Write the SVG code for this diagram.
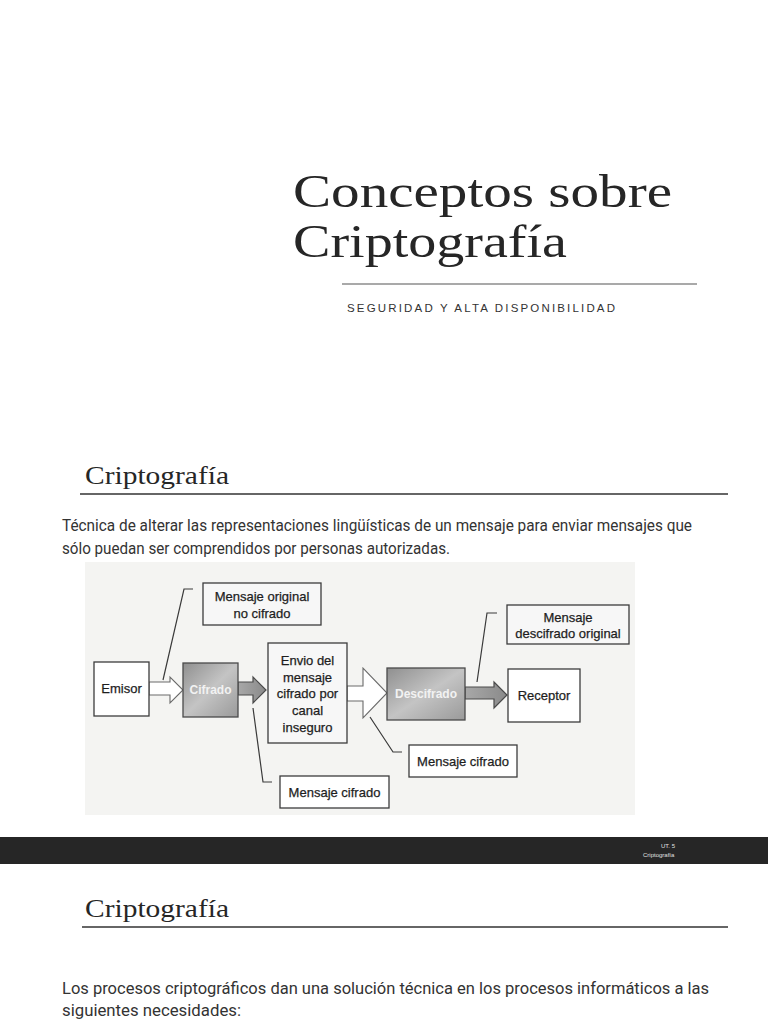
<svg xmlns="http://www.w3.org/2000/svg" width="768" height="1024" viewBox="0 0 768 1024">
  <defs>
    <linearGradient id="gbox" x1="0" y1="0" x2="1" y2="1">
      <stop offset="0" stop-color="#8f8f8f"/>
      <stop offset="0.5" stop-color="#c4c4c4"/>
      <stop offset="1" stop-color="#9a9a9a"/>
    </linearGradient>
    <linearGradient id="garrow" x1="0" y1="0" x2="1" y2="0">
      <stop offset="0" stop-color="#a8a8a8"/>
      <stop offset="1" stop-color="#8a8a8a"/>
    </linearGradient>
    <style>
      .serif { font-family: "Liberation Serif", "DejaVu Serif", serif; fill: #262626; }
      .body { font-family: Roboto, "Liberation Sans", sans-serif; fill: #333; font-size: 16px; }
      .fig { font-family: "Liberation Sans", Arial, sans-serif; font-size: 13px; fill: #1e1e1e; stroke: #1e1e1e; stroke-width: 0.25; text-anchor: middle; }
      .figw { font-family: "Liberation Sans", Arial, sans-serif; font-size: 12px; fill: #f2f2f2; text-anchor: middle; font-weight: bold; }
      .box { fill: #ffffff; stroke: #3c3c3c; stroke-width: 1.3; }
      .lbox { fill: #f7f7f7; stroke: #3c3c3c; stroke-width: 1.3; }
      .gbox { fill: url(#gbox); stroke: #4a4a4a; stroke-width: 1.3; }
      .harrow { fill: #ffffff; stroke: #6a6a6a; stroke-width: 1.1; }
      .farrow { fill: url(#garrow); stroke: #4a4a4a; stroke-width: 1.2; }
      .lead { fill: none; stroke: #3a3a3a; stroke-width: 1.2; }
      .rule { stroke: #333; stroke-width: 1.3; }
    </style>
  </defs>

  <rect x="0" y="0" width="768" height="1024" fill="#ffffff"/>

  <!-- Title slide -->
  <g id="title">
    <text class="serif" x="293" y="207" font-size="46" textLength="379" lengthAdjust="spacingAndGlyphs">Conceptos sobre</text>
    <text class="serif" x="293" y="257" font-size="46" textLength="274" lengthAdjust="spacingAndGlyphs">Criptografía</text>
    <line x1="342" y1="284" x2="697" y2="284" stroke="#555" stroke-width="1.2"/>
    <text x="347" y="312" font-family="'Liberation Sans', Arial, sans-serif" font-size="11.5" fill="#333" textLength="268" lengthAdjust="spacing">SEGURIDAD Y ALTA DISPONIBILIDAD</text>
  </g>

  <!-- Slide 2 -->
  <g id="slide2-heading">
    <text class="serif" x="85" y="484" font-size="26" fill="#333" textLength="144" lengthAdjust="spacingAndGlyphs">Criptografía</text>
    <line class="rule" x1="80" y1="494" x2="728" y2="494"/>
  </g>
  <g id="slide2-text">
    <text class="body" x="62" y="531" textLength="630" lengthAdjust="spacingAndGlyphs">Técnica de alterar las representaciones lingüísticas de un mensaje para enviar mensajes que</text>
    <text class="body" x="62" y="554" textLength="388" lengthAdjust="spacingAndGlyphs">sólo puedan ser comprendidos por personas autorizadas.</text>
  </g>

  <!-- Figure background -->
  <rect x="85" y="562" width="550" height="253" fill="#f4f4f2"/>

  <!-- Connectors -->
  <g id="connectors">
    <polygon class="harrow" points="149,682 170,682 170,677 183,690 170,703 170,695 149,695"/>
    <polygon class="farrow" points="238,682 253,682 253,677 266,690 253,703 253,695 238,695"/>
    <polygon class="harrow" points="347,686 363,686 363,668 387,693 363,718 363,701 347,701"/>
    <polygon class="farrow" points="465,687 494,687 494,682 507,695 494,708 494,699 465,699"/>
    <polyline class="lead" points="163,680 184,589 193,589"/>
    <polyline class="lead" points="253,708 263,782 272,782"/>
    <polyline class="lead" points="370,717 393,752 402,752"/>
    <polyline class="lead" points="477,682 487,613 497,613"/>
  </g>

  <g id="emisor">
    <rect class="box" x="94" y="662" width="55" height="54"/>
    <text class="fig" x="121.5" y="693">Emisor</text>
  </g>
  <g id="cifrado">
    <rect class="gbox" x="183" y="663" width="55" height="54"/>
    <text class="figw" x="210.5" y="694">Cifrado</text>
  </g>
  <g id="envio">
    <rect class="lbox" x="268" y="643" width="79" height="100"/>
    <text class="fig" x="307.5" y="665">Envio del</text>
    <text class="fig" x="307.5" y="682">mensaje</text>
    <text class="fig" x="307.5" y="698">cifrado por</text>
    <text class="fig" x="307.5" y="715">canal</text>
    <text class="fig" x="307.5" y="732">inseguro</text>
  </g>
  <g id="descifrado">
    <rect class="gbox" x="387" y="668" width="78" height="52"/>
    <text class="figw" x="426" y="698">Descifrado</text>
  </g>
  <g id="receptor">
    <rect class="box" x="508" y="669" width="72" height="53"/>
    <text class="fig" x="544" y="700">Receptor</text>
  </g>
  <g id="msg-original">
    <rect class="lbox" x="203" y="583" width="118" height="42"/>
    <text class="fig" x="262" y="601">Mensaje original</text>
    <text class="fig" x="262" y="618">no cifrado</text>
  </g>
  <g id="msg-descifrado">
    <rect class="lbox" x="507" y="605" width="122" height="39"/>
    <text class="fig" x="568" y="622">Mensaje</text>
    <text class="fig" x="568" y="638">descifrado original</text>
  </g>
  <g id="msg-cifrado-1">
    <rect class="box" x="280" y="776" width="109" height="32"/>
    <text class="fig" x="334.5" y="797">Mensaje cifrado</text>
  </g>
  <g id="msg-cifrado-2">
    <rect class="box" x="409" y="745" width="108" height="32"/>
    <text class="fig" x="463" y="766">Mensaje cifrado</text>
  </g>

  <!-- Footer band -->
  <g id="footer">
    <rect x="0" y="837" width="768" height="27" fill="#262626"/>
    <text x="661" y="848" font-family="'Liberation Sans', Arial, sans-serif" font-size="6" fill="#e0e0e0">UT. 5</text>
    <text x="643" y="857" font-family="'Liberation Sans', Arial, sans-serif" font-size="6" fill="#e0e0e0">Criptografía</text>
  </g>

  <!-- Slide 3 -->
  <g id="slide3-heading">
    <text class="serif" x="85" y="917" font-size="26" fill="#333" textLength="144" lengthAdjust="spacingAndGlyphs">Criptografía</text>
    <line class="rule" x1="82" y1="927" x2="728" y2="927"/>
  </g>
  <g id="slide3-text">
    <text class="body" x="62" y="994" textLength="647" lengthAdjust="spacingAndGlyphs">Los procesos criptográficos dan una solución técnica en los procesos informáticos a las</text>
    <text class="body" x="62" y="1016" textLength="179" lengthAdjust="spacingAndGlyphs">siguientes necesidades:</text>
  </g>
</svg>
